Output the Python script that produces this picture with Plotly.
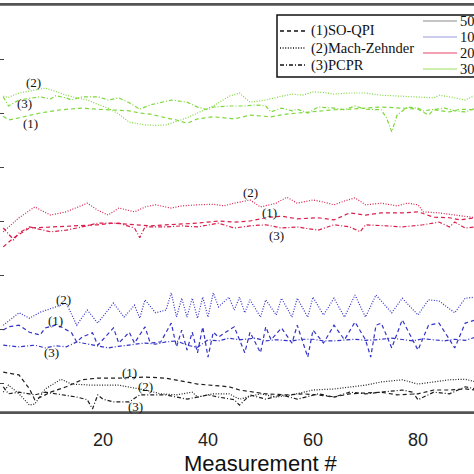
import plotly.graph_objects as go

# ---------------- data (measurement #, value) ----------------
# 50 (black)
k1_x = [1,3,4,6,7,9,10,13,16,19,23,28,32,38,44,46,51,55,58,61,64,67,73,76,80,83,86,89,91]
k1_y = [1.20,1.17,1.15,0.89,0.69,0.78,0.83,0.93,1.06,1.09,1.09,1.11,1.09,0.98,0.93,0.87,0.80,0.78,0.80,0.78,0.74,0.80,0.83,0.78,0.80,0.87,0.87,0.89,0.87]
k2_x = [1,2,4,6,7,9,12,14,18,23,28,31,34,37,38,41,44,46,50,53,56,60,64,67,70,73,77,80,83,86,89,91]
k2_y = [0.83,0.96,0.80,0.59,0.61,0.89,1.07,0.98,0.96,0.96,0.87,0.80,0.78,0.83,0.74,0.80,0.80,0.70,0.80,0.74,0.78,0.87,0.89,0.93,0.96,1.02,1.06,0.98,1.02,1.06,1.07,1.02]
k3_x = [1,2,4,7,9,12,15,17,18,19,20,22,25,27,32,36,40,42,45,46,48,51,54,57,61,64,67,70,73,77,79,80,83,86,89,91]
k3_y = [0.93,0.80,0.83,0.78,0.83,0.78,0.74,0.69,0.52,0.78,0.70,0.65,0.65,0.78,0.78,0.70,0.78,0.74,0.69,0.59,0.78,0.70,0.78,0.70,0.80,0.74,0.83,0.80,0.83,0.87,0.83,0.69,0.83,0.80,0.93,0.89]

# 100 (blue)
b1_x = [1,2,4,6,8,9,11,12,14,15,16,18,19,22,23,25,26,28,29,31,33,34,35,36,37,38,39,40,41,42,44,45,47,48,50,51,52,54,56,57,59,60,62,64,66,68,70,71,72,73,75,77,80,82,84,87,89,91]
b1_y = [1.98,2.04,2.07,1.94,1.89,2.02,2.07,2.04,1.93,1.76,1.85,1.93,1.70,2.02,1.74,1.94,1.74,2.04,1.74,1.76,2.11,1.67,1.98,1.61,1.94,1.56,2.04,1.48,1.94,1.85,1.98,2.04,1.56,1.94,1.56,2.04,1.80,2.02,1.74,2.07,1.48,1.98,1.74,2.07,1.80,2.13,1.80,1.48,2.07,2.11,1.65,2.17,1.61,2.07,2.11,1.65,2.11,2.17]
b2_x = [1,4,6,8,11,13,15,17,19,22,24,26,27,28,30,32,33,34,35,36,37,38,39,40,41,42,44,45,46,47,48,50,51,53,54,56,57,59,60,62,64,66,68,70,72,75,77,80,82,84,87,89,91]
b2_y = [2.07,2.30,2.20,2.31,2.41,2.48,2.07,2.35,2.11,2.48,2.22,2.44,2.20,2.54,2.30,2.35,2.67,2.22,2.57,2.22,2.57,2.20,2.59,2.22,2.67,2.41,2.59,2.35,2.59,2.30,2.54,2.22,2.54,2.26,2.57,2.22,2.57,2.22,2.59,2.26,2.57,2.22,2.63,2.22,2.63,2.30,2.57,2.26,2.54,2.52,2.30,2.57,2.59]
b3_x = [1,4,7,9,11,13,15,17,18,21,23,25,28,30,32,34,36,38,40,42,44,46,49,51,53,56,58,60,62,64,66,68,70,72,75,77,79,81,83,85,87,89,91]
b3_y = [1.70,1.67,1.70,1.65,1.69,1.67,1.76,1.72,1.70,1.65,1.68,1.70,1.74,1.72,1.76,1.78,1.70,1.66,1.80,1.78,1.83,1.80,1.83,1.78,1.80,1.78,1.81,1.81,1.78,1.78,1.80,1.81,1.79,1.80,1.83,1.80,1.78,1.82,1.80,1.78,1.81,1.79,1.85]

# 200 (red)
r1_x = [1,3,6,10,14,19,22,26,29,32,35,38,42,45,48,51,54,57,61,64,67,70,73,77,80,83,86,88,91]
r1_y = [3.52,3.69,3.87,3.89,3.91,3.93,3.96,3.93,3.91,3.93,3.94,3.96,4.00,3.98,4.00,4.06,4.09,4.04,4.06,4.02,4.15,4.11,4.15,4.15,4.17,4.07,4.06,4.02,4.06]
r2_x = [1,4,7,10,13,17,19,21,23,26,28,30,33,35,38,41,43,45,48,50,53,55,57,60,62,64,66,68,70,73,76,78,80,81,84,87,89,91]
r2_y = [3.80,4.06,4.26,4.11,4.17,4.33,4.20,4.11,4.24,4.17,4.26,4.30,4.24,4.28,4.30,4.31,4.28,4.33,4.39,4.26,4.33,4.44,4.33,4.39,4.35,4.30,4.37,4.43,4.30,4.33,4.28,4.33,4.30,4.17,4.15,4.11,4.09,4.06]
r3_x = [1,3,4,6,10,13,16,19,23,26,27,28,32,35,38,42,45,48,51,54,57,61,64,67,69,70,74,77,81,84,86,87,89,91]
r3_y = [3.87,3.65,3.78,3.89,3.80,3.83,3.89,3.96,3.96,3.87,3.69,3.89,3.89,3.91,3.89,3.96,3.87,3.91,3.93,3.87,3.89,3.83,3.93,3.89,3.80,3.93,3.91,3.89,3.93,3.98,3.89,3.98,3.87,3.89]

# 300 (green)
g1_x = [1,2,4,8,12,16,19,21,25,27,29,32,34,36,38,41,43,45,48,50,52,55,57,59,62,64,67,70,73,77,80,82,83,86,88,91]
g1_y = [5.94,5.87,5.91,6.00,6.06,6.09,6.07,6.06,6.04,6.00,5.98,5.91,5.87,5.81,5.89,5.93,5.91,5.89,5.96,5.94,5.93,5.98,6.00,6.02,6.04,6.06,6.07,6.09,6.11,6.09,6.07,5.96,6.06,6.02,6.07,6.06]
g2_x = [1,2,4,6,9,11,13,15,17,19,21,23,25,28,30,32,34,36,38,41,44,46,48,51,54,56,58,60,62,64,67,70,73,77,80,83,84,86,89,91]
g2_y = [6.31,6.29,6.37,6.41,6.46,6.40,6.33,6.28,6.24,6.16,6.09,5.98,5.83,5.78,5.77,5.78,5.85,5.91,6.00,6.13,6.31,6.37,6.20,6.24,6.31,6.35,6.33,6.39,6.38,6.35,6.37,6.37,6.33,6.31,6.30,6.28,6.33,6.30,6.24,6.33]
g3_x = [1,2,4,8,10,11,13,14,16,19,21,23,25,27,29,31,33,36,38,40,41,44,47,49,51,52,54,56,57,59,61,64,66,68,70,73,74,75,76,78,80,81,83,85,86,87,89,90,91]
g3_y = [6.30,6.13,6.24,6.30,6.26,6.32,6.28,6.24,6.30,6.30,6.24,6.28,6.19,6.07,6.15,6.20,6.24,6.20,6.11,6.06,6.11,6.13,6.13,6.15,6.13,6.02,6.09,6.04,6.07,6.00,6.11,6.09,6.06,6.13,6.07,6.06,5.91,5.65,5.96,6.11,6.09,6.04,6.06,6.09,6.07,6.04,6.02,6.06,6.09]

methods = ["(1)SO-QPI", "(2)Mach-Zehnder", "(3)PCPR"]
groups = ["50 °C", "100 °C", "200 °C", "300 °C"]
x_ticks = [20, 40, 60, 80]
y_ticks = [1, 2, 3, 4, 5, 6, 7, 8]

# ---------------- styles ----------------
C_K, C_B, C_R, C_G = "#1e1e1e", "#3232c8", "#d8204c", "#7ed83c"
LEG_COL = ["#8a8a8a", "#9a9ae0", "#e8406a", "#9ee05a"]
DASH = {1: "4px,3px", 2: "1px,1.6px", 3: "4px,2px,1px,2px"}
LW = 1.2

W, H = 474, 474
ML, MR, MT, MB = 0, 0, 5, 62
PLOT_H = H - MT - MB
X_RANGE = [2 / 5.25, 476 / 5.25]

fig = go.Figure()

series = [
    (k1_x, k1_y, C_K, 1), (k2_x, k2_y, C_K, 2), (k3_x, k3_y, C_K, 3),
    (b1_x, b1_y, C_B, 1), (b2_x, b2_y, C_B, 2), (b3_x, b3_y, C_B, 3),
    (r1_x, r1_y, C_R, 1), (r2_x, r2_y, C_R, 2), (r3_x, r3_y, C_R, 3),
    (g1_x, g1_y, C_G, 1), (g2_x, g2_y, C_G, 2), (g3_x, g3_y, C_G, 3),
]
for xs, ys, col, m in series:
    fig.add_trace(go.Scatter(x=xs, y=ys, mode="lines",
                             line=dict(color=col, width=LW, dash=DASH[m]),
                             showlegend=False, hoverinfo="skip"))

def px_x(px):
    return px / W

def px_y(py):
    return (H - MB - py) / PLOT_H

shapes = []
annotations = []

# frame lines (top and bottom of the axes box)
for yy in (0.0, 1.0):
    shapes.append(dict(type="line", xref="paper", yref="paper", x0=0.0, x1=1.0, y0=yy, y1=yy,
                       line=dict(color="#555", width=1.5), layer="above"))

# curve labels (data coordinates)
lab_font = dict(family="Liberation Serif, Times New Roman, serif", size=13, color="#111")
curve_labels = [
    (6.7, 6.57, "(2)"), (5.1, 6.17, "(3)"), (6.1, 5.81, "(1)"),
    (48.0, 4.52, "(2)"), (51.8, 4.15, "(1)"), (53.1, 3.74, "(3)"),
    (12.4, 2.54, "(2)"), (10.9, 2.15, "(1)"), (10.1, 1.56, "(3)"),
    (25.1, 1.19, "(1)"), (28.0, 0.94, "(2)"), (26.1, 0.56, "(3)"),
]
for x, y, t in curve_labels:
    annotations.append(dict(x=x, y=y, xref="x", yref="y", text=t, showarrow=False,
                            font=lab_font, xanchor="center", yanchor="middle"))

# legend box
shapes.append(dict(type="rect", xref="paper", yref="paper",
                   x0=px_x(277), x1=px_x(490), y0=px_y(77), y1=px_y(15),
                   line=dict(color="#111", width=1.5), fillcolor="white", layer="above"))
leg_font = dict(family="Liberation Serif, Times New Roman, serif", size=14.5, color="#111")
left_rows = [31, 48, 65]
for i, (py, name) in enumerate(zip(left_rows, methods)):
    shapes.append(dict(type="line", xref="paper", yref="paper",
                       x0=px_x(280), x1=px_x(306), y0=px_y(py), y1=px_y(py),
                       line=dict(color="#111", width=1.6, dash=DASH[i + 1]), layer="above"))
    annotations.append(dict(x=px_x(309), y=px_y(py), xref="paper", yref="paper", text=name,
                            showarrow=False, xanchor="left", yanchor="middle", font=leg_font))
right_rows = [21, 37, 53, 69]
for py, name, col in zip(right_rows, groups, LEG_COL):
    shapes.append(dict(type="line", xref="paper", yref="paper",
                       x0=px_x(423), x1=px_x(457), y0=px_y(py), y1=px_y(py),
                       line=dict(color=col, width=1.2), layer="above"))
    annotations.append(dict(x=px_x(458), y=px_y(py), xref="paper", yref="paper", text=name,
                            showarrow=False, xanchor="left", yanchor="middle", font=leg_font))

sans = "Liberation Sans, Arial, sans-serif"
# partially visible "0" tick label at the cropped left edge
annotations.append(dict(x=0, y=px_y(435), xref="x", yref="paper", text="0", showarrow=False,
                        xanchor="center", yanchor="middle", font=dict(family=sans, size=18, color="#222")))
# x axis title centred on the full (uncropped) axis
annotations.append(dict(x=50, y=px_y(463), xref="x", yref="paper", text="Measurement #",
                        showarrow=False, xanchor="center", yanchor="middle",
                        font=dict(family=sans, size=22, color="#111")))

fig.update_layout(
    width=W, height=H,
    margin=dict(l=ML, r=MR, t=MT, b=MB, pad=0),
    paper_bgcolor="white", plot_bgcolor="white",
    shapes=shapes, annotations=annotations,
    # labels: transparent outside ticks push the numbers down to where the reference has them
    xaxis=dict(range=X_RANGE, tickvals=x_ticks, ticktext=[str(v) for v in x_ticks],
               ticks="outside", ticklen=11, tickcolor="rgba(0,0,0,0)",
               showline=True, linecolor="#555", linewidth=1.5, mirror=True,
               showgrid=False, zeroline=False,
               tickfont=dict(family=sans, size=18, color="#222")),
    # visible inside tick marks, bottom and top
    xaxis2=dict(range=X_RANGE, overlaying="x", anchor="y", side="bottom",
                tickvals=x_ticks, ticks="inside", ticklen=5, tickwidth=1.2, tickcolor="#333",
                mirror="allticks", showline=False, showticklabels=False,
                showgrid=False, zeroline=False),
    yaxis=dict(range=[1 - 29 / 54, 8.0], tickvals=y_ticks, ticks="inside", ticklen=4,
               tickwidth=1, tickcolor="#444", showticklabels=False,
               showline=False, showgrid=False, zeroline=False),
)

fig.write_html("out.html")
